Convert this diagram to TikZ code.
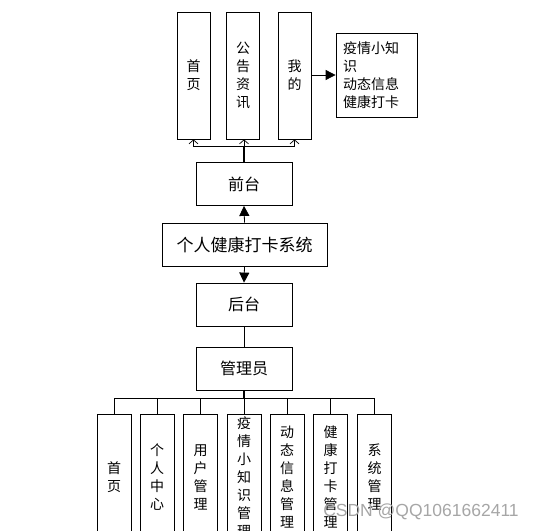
\documentclass[tikz,border=0pt]{standalone}
\usepackage{fontspec}
\usepackage{tikz}
\usetikzlibrary{arrows,arrows.meta,positioning}
\newfontfamily\cjk{Noto Sans CJK SC}
\newfontfamily\wmfont{Liberation Sans}

\begin{document}
\begin{tikzpicture}[x=1pt, y=-1pt, line width=0.8pt,
  col node/.style={draw,minimum width=33pt,minimum height=127pt,inner sep=0pt,align=center,font=\cjk\fontsize{14}{18}\selectfont},
  mid node/.style={draw,minimum width=96pt,minimum height=43pt,inner sep=0pt,font=\cjk\fontsize{16}{18}\selectfont},
  sub node/.style={draw,minimum width=34pt,minimum height=126pt,inner sep=0pt,align=center,font=\cjk\fontsize{14}{18}\selectfont},
  big tip/.style={-{Triangle[length=10pt,width=10pt]}},
  open tip/.style={-{Straight Barb[length=4pt,width=9pt,line width=0.7pt]}}]%
\useasboundingbox (0,0) rectangle (535,530);
\begin{scope}
\node[col node] (vHome) at (193.5,75.5) {首\\页};
\node[col node] (vNews) at (243,75.5) {公\\告\\资\\讯};
\node[col node] (vMine) at (294.5,75.5) {我\\的};
\node[draw,minimum width=81pt,minimum height=84pt,inner sep=7pt,align=left,text width=67pt,font=\cjk\fontsize{14}{18}\selectfont] (vInfo) at (376.5,75) {疫情小知\\识\\动态信息\\健康打卡};
\node[mid node] (vFront) at (244,184) {前台};
\node[mid node,minimum width=165pt,font=\cjk\fontsize{17}{18}\selectfont] (vSys) at (244.5,244.5) {个人健康打卡系统};
\node[mid node] (vBack) at (244,304.5) {后台};
\node[mid node] (vAdmin) at (244,368.5) {管理员};
\node[sub node] (m1) at (114,477) {首\\页};
\node[sub node] (m2) at (157,477) {个\\人\\中\\心};
\node[sub node] (m3) at (200.5,477) {用\\户\\管\\理};
\node[sub node] (m4) at (244,477) {疫\\情\\小\\知\\识\\管\\理};
\node[sub node] (m5) at (287,477) {动\\态\\信\\息\\管\\理};
\node[sub node] (m6) at (330.5,477) {健\\康\\打\\卡\\管\\理};
\node[sub node] (m7) at (374.5,477) {系\\统\\管\\理};
\coordinate (cTop) at (244,146);
\coordinate (cBot) at (244,398);
\end{scope}
\begin{scope}
%front end
\draw[line width=1.2pt] (vFront.north) -- (cTop);
\draw[open tip] (cTop) -| (vHome.south);
\draw[open tip] (cTop) -- (vNews.south -| cTop);
\draw[open tip] (cTop) -| (vMine.south);
\draw[big tip] (vMine.east |- vInfo.west) -- (vInfo.west);
\draw[big tip] (vSys.north) -- (vFront.south);
\draw[big tip] (vSys.south) -- (vBack.north);
\draw (vBack.south) -- (vAdmin.north);
%back end
\draw[line width=1.2pt] (vAdmin.south) -- (cBot);
\draw (cBot) -| (m1.north);
\draw (cBot) -| (m2.north);
\draw (cBot) -| (m3.north);
\draw (cBot) -- (m4.north);
\draw (cBot) -| (m5.north);
\draw (cBot) -| (m6.north);
\draw (cBot) -| (m7.north);
\end{scope}
\node[text=black!35,font=\wmfont\fontsize{17.5}{18}\selectfont,inner sep=0pt] (wm) at (421,512) {CSDN @QQ1061662411};
\end{tikzpicture}
\end{document}
